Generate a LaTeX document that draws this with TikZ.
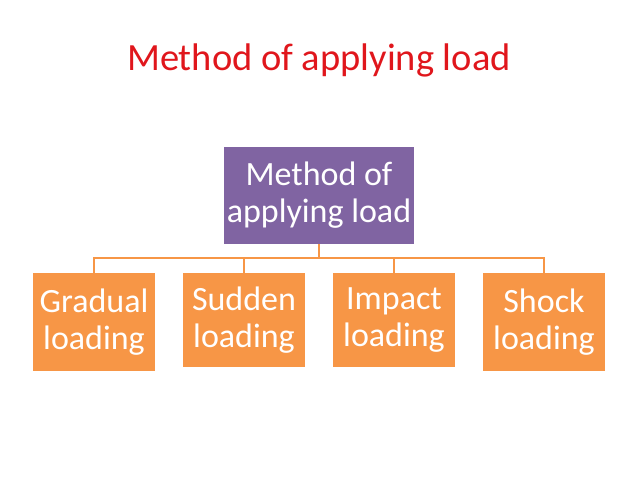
\documentclass[tikz,border=0pt]{standalone}
\usepackage{fontspec}
\setmainfont{Carlito}
\definecolor{pur}{HTML}{8064A2}
\definecolor{org}{HTML}{F79646}
\definecolor{ttl}{HTML}{E0161C}
\begin{document}
\begin{tikzpicture}[x=1pt,y=-1pt,
  box/.style={draw=none,text=white,align=center,inner sep=0pt,font=\fontsize{34}{37}\selectfont},
  ln/.style={draw=org,line width=1.2pt}]
\useasboundingbox (0,0) rectangle (638,478);
\node[text=ttl,font=\fontsize{38.5}{40}\selectfont] (title) at (319,60) {Method of applying load};
\node[box,fill=pur,minimum width=190pt,minimum height=97pt] (top) at (319,195.5) {Method of\\applying load};
\node[box,fill=org,minimum width=122pt,minimum height=98pt] (g) at (94,322) {Gradual\\loading};
\node[box,fill=org,minimum width=122pt,minimum height=94pt] (s) at (244,320) {Sudden\\loading};
\node[box,fill=org,minimum width=122pt,minimum height=94pt] (i) at (394,320) {Impact\\loading};
\node[box,fill=org,minimum width=122pt,minimum height=98pt] (k) at (544,322) {Shock\\loading};
\coordinate (bus) at (319,258);
\draw[ln] (top.south) -- (bus);
\draw[ln] (g.north) -- (g.north |- bus) -- (k.north |- bus) -- (k.north);
\draw[ln] (s.north) -- (s.north |- bus);
\draw[ln] (i.north) -- (i.north |- bus);
\end{tikzpicture}
\end{document}
